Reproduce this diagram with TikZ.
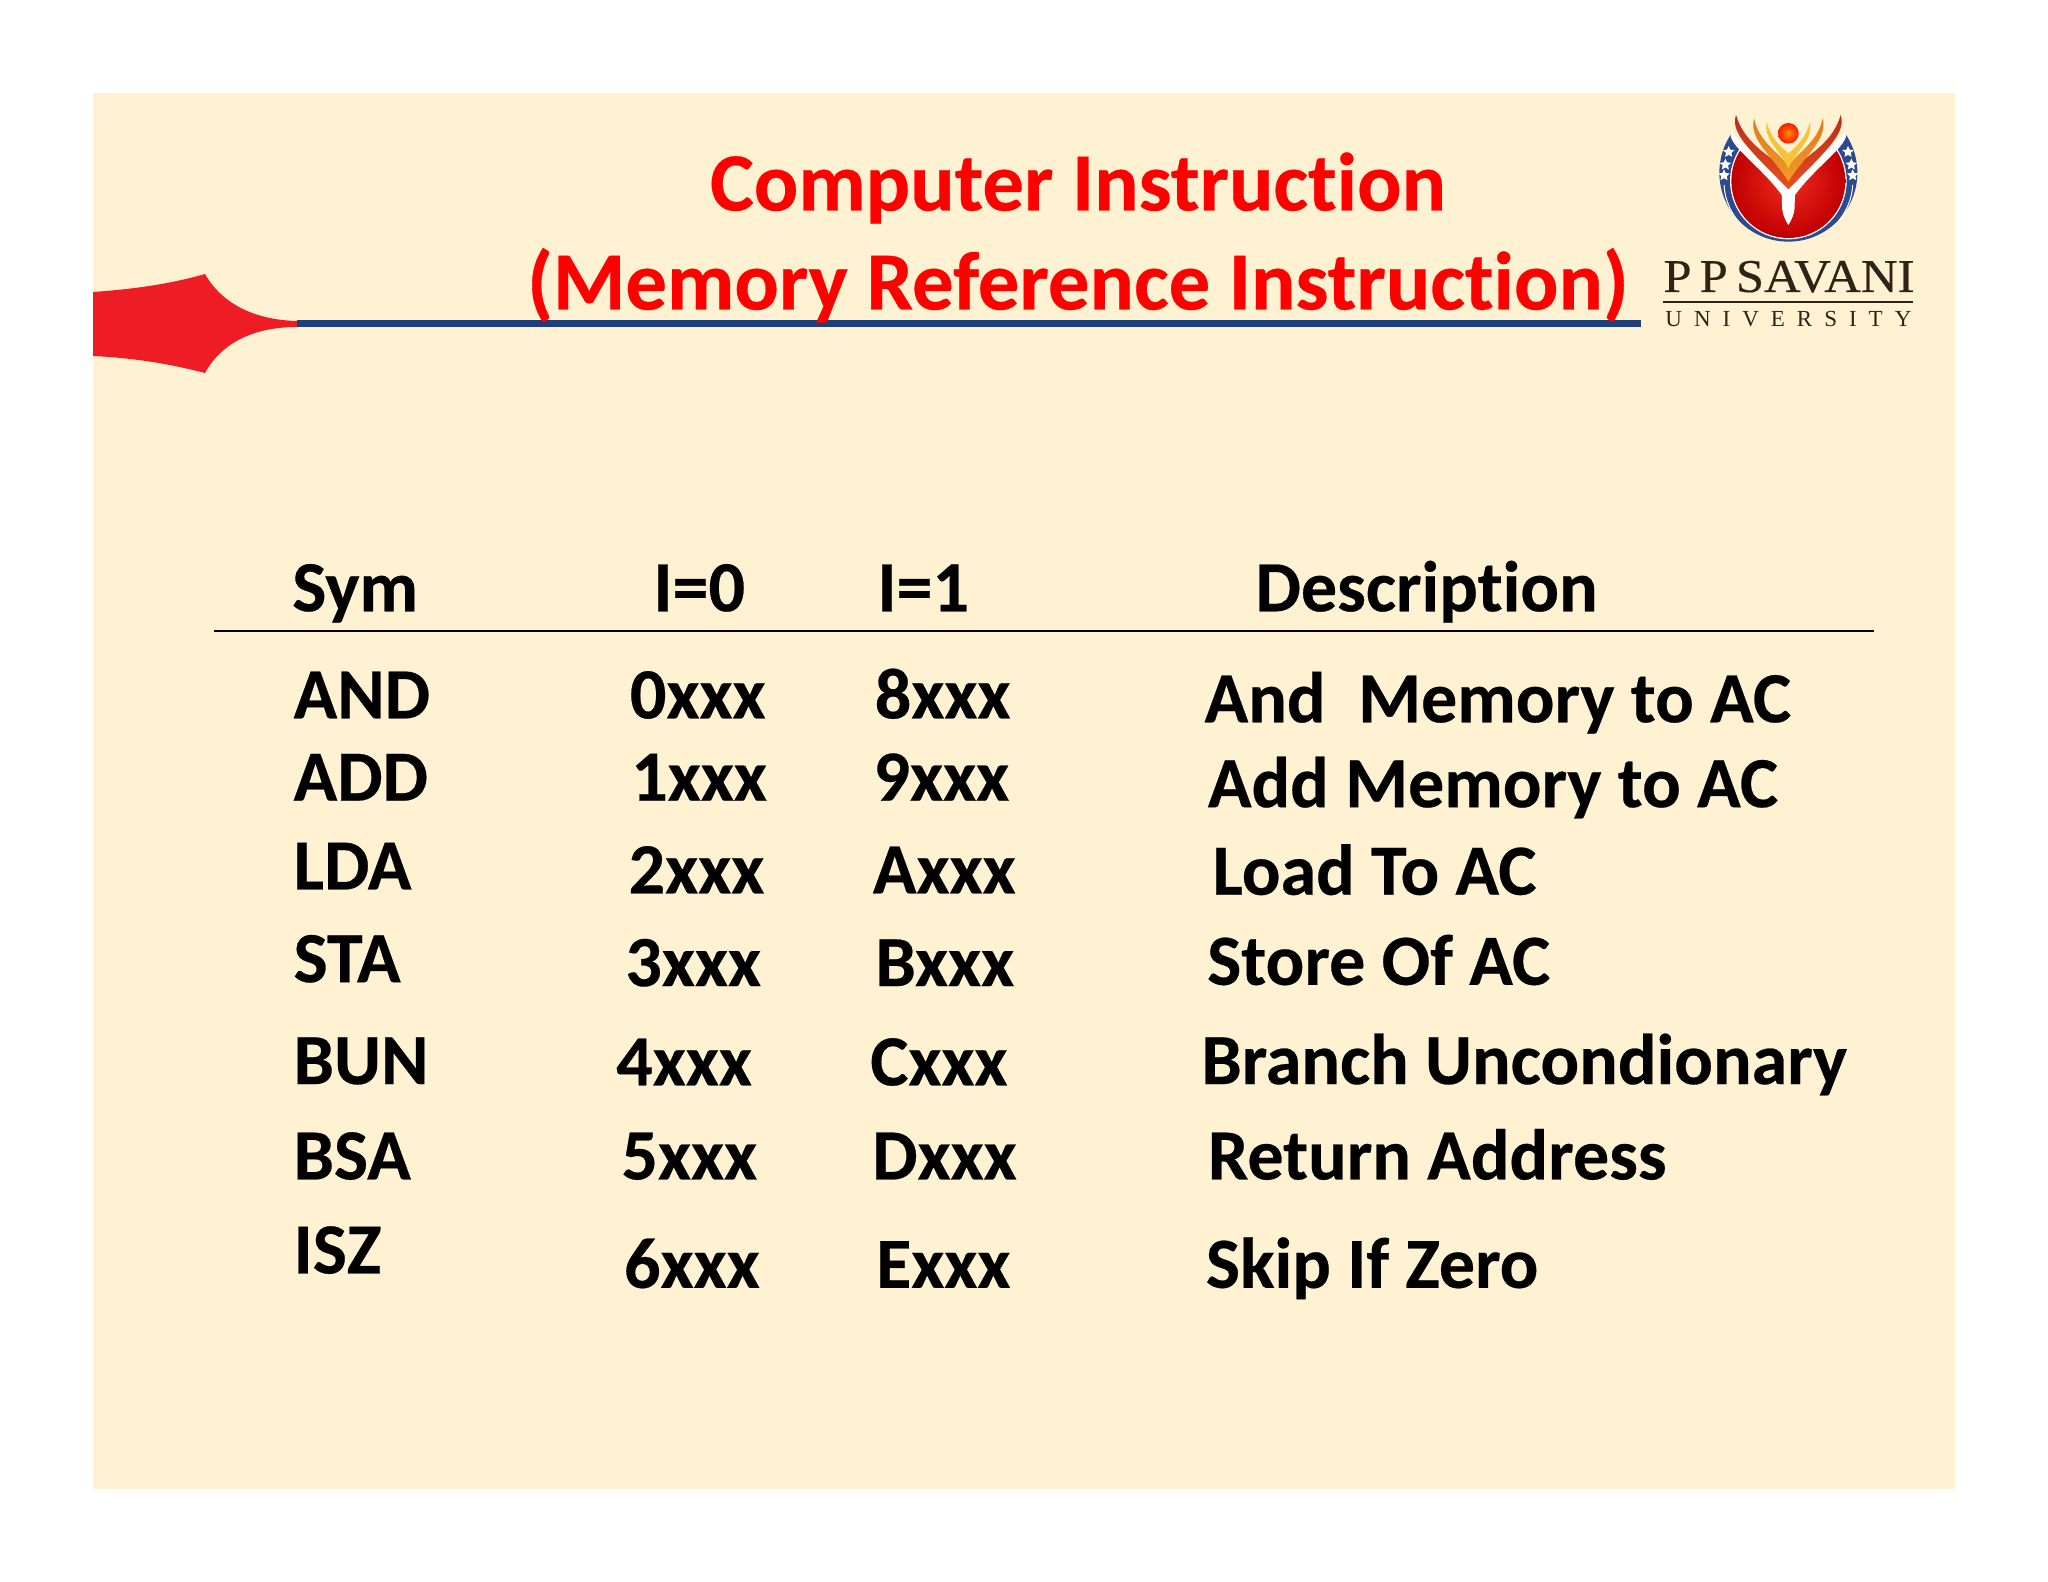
\documentclass[tikz,border=0pt]{standalone}
\usepackage{fontspec}
\setmainfont{Carlito}[Ligatures=NoCommon,BoldFeatures={FakeBold=0.35}]
\newfontfamily\logofont{Liberation Serif}[FakeStretch=1.08,FakeBold=0.35]
\newfontfamily\logosubfont{Liberation Serif}
\usetikzlibrary{shapes.geometric}
\definecolor{panelbg}{HTML}{FFF2D2}
\definecolor{barblue}{HTML}{1F3F7A}
\definecolor{penred}{HTML}{EE1C25}
\definecolor{titlered}{HTML}{FF0000}
\definecolor{logoblue}{HTML}{2C4A8C}
\definecolor{logoink}{HTML}{2E2317}
\definecolor{flamered}{HTML}{B92A1A}
\definecolor{flamelow}{HTML}{E8501E}
\definecolor{flameorange}{HTML}{DE7A22}
\definecolor{flameamber}{HTML}{F29A24}
\definecolor{flameyellow}{HTML}{F8C33A}
\tikzset{
  titletext/.style={anchor=base,font=\bfseries\fontsize{41.4pt}{41.4pt}\selectfont,text=titlered,inner sep=0pt},
  celltext/.style={anchor=base west,font=\bfseries\fontsize{36pt}{36pt}\selectfont,text=black,inner sep=0pt},
  logostar/.style={star,star points=5,star point ratio=2.1,fill=white,draw=none,minimum size=6pt,inner sep=0pt},
  logotext/.style={anchor=base west,text=logoink,inner sep=0pt}
}
\begin{document}
\begin{tikzpicture}[x=0.5pt,y=-0.5pt]
\useasboundingbox (0,0) rectangle (2048,1582);
\fill[white] (0,0) rectangle (2048,1582);
\fill[panelbg] (93,93) rectangle (1955,1489);
% pen nib and bar
\coordinate (barstart) at (297,324);
\coordinate (barend) at (1641,324);
\draw[barblue,line width=3.5pt] (barstart) -- (barend);
\fill[penred] (93,292) .. controls (135,289) and (170,284) .. (205,274)
  .. controls (222,304) and (255,320) .. (297,321)
  -- (297,327)
  .. controls (255,327) and (222,342) .. (205,373)
  .. controls (170,364) and (135,358) .. (93,356) -- cycle;
% title
\node[titletext] (title1) at (1078,210.5) {Computer Instruction};
\node[titletext] (title2) at (1078,309.5) {(Memory Reference Instruction)};
% logo, in zoom coordinates
\begin{scope}[shift={(1600,90)},x=0.1666667pt,y=-0.1666667pt]
  \fill[logoblue] (565,248) circle[radius=207];
  \fill[white] (565,273) circle[radius=175];
  \shade[inner color=penred!85!orange,outer color=red!75!black] (565,273) circle[radius=171];
  \fill[panelbg] (340,30) -- (345,110) -- (392,130) -- (565,300) -- (738,130) -- (785,110) -- (790,30) -- cycle;
  \fill[white] (392,125) .. controls (380,165) and (480,225) .. (545,315)
     .. controls (548,350) and (540,365) .. (565,405)
     .. controls (590,365) and (582,350) .. (585,315)
     .. controls (650,225) and (750,165) .. (738,125)
     .. controls (700,170) and (610,230) .. (565,298)
     .. controls (520,230) and (430,170) .. (392,125) -- cycle;
  \shade[top color=flamered,bottom color=flamelow] (408,75) .. controls (390,130) and (450,180) .. (565,298)
     .. controls (680,180) and (740,130) .. (722,75)
     .. controls (700,150) and (640,190) .. (565,240)
     .. controls (490,190) and (430,150) .. (408,75) -- cycle;
  \shade[top color=flameorange,bottom color=flameamber] (462,85) .. controls (445,150) and (520,200) .. (565,275)
     .. controls (610,200) and (685,150) .. (668,85)
     .. controls (655,150) and (605,180) .. (565,225)
     .. controls (525,180) and (475,150) .. (462,85) -- cycle;
  \fill[flameyellow] (500,95) .. controls (490,150) and (540,180) .. (565,235)
     .. controls (590,180) and (640,150) .. (630,95)
     .. controls (620,140) and (590,170) .. (565,190)
     .. controls (540,170) and (510,140) .. (500,95) -- cycle;
  \shade[inner color=orange!90!yellow,outer color=red!80!orange] (565,130) circle[radius=31];
  \node[logostar] (s1) at (386,186) {};
  \node[logostar] (s2) at (376,224) {};
  \node[logostar] (s3) at (372,256) {};
  \node[logostar] (s4) at (744,186) {};
  \node[logostar] (s5) at (754,224) {};
  \node[logostar] (s6) at (758,256) {};
  \draw[white,line width=0.5pt] (372,285) .. controls (374,330) and (395,375) .. (425,405);
  \draw[white,line width=0.5pt] (758,285) .. controls (756,330) and (735,375) .. (705,405);
\end{scope}
\node[logotext,font=\logofont\fontsize{23.5pt}{23.5pt}\selectfont] (logoname) at (1663,292) {P\hspace{4pt}P\hspace{4pt}SAVANI};
\coordinate (logorulea) at (1663,302);
\coordinate (logoruleb) at (1913,302);
\draw[logoink,line width=0.6pt] (logorulea) -- (logoruleb);
\node[logotext,font=\logosubfont\fontsize{11.5pt}{11.5pt}\selectfont] (logosub) at (1665,327) {\makebox[123pt][s]{U\hfill N\hfill I\hfill V\hfill E\hfill R\hfill S\hfill I\hfill T\hfill Y}};
% table, in displayed coordinates
\begin{scope}[x=0.65305pt,y=-0.65305pt]
  \coordinate (rulea) at (164,483);
  \coordinate (ruleb) at (1435,483);
  \draw[black,line width=0.9pt] (rulea) -- (ruleb);
  \node[celltext] (hsym) at (223.5,468) {Sym};
  \node[celltext] (hzero) at (500,468) {I=0};
  \node[celltext] (hone) at (671.5,468) {I=1};
  \node[celltext] (hdesc) at (961,468) {Description};
  \node[celltext] (a1) at (224.5,550) {AND};
  \node[celltext] (a2) at (482,550) {0xxx};
  \node[celltext] (a3) at (669.5,550) {8xxx};
  \node[celltext] (a4) at (922,553) {And\ \ Memory to AC};
  \node[celltext] (b1) at (224.5,613) {ADD};
  \node[celltext] (b2) at (483,613) {1xxx};
  \node[celltext] (b3) at (668.5,613) {9xxx};
  \node[celltext] (b4) at (924.5,618) {Add Memory to AC};
  \node[celltext] (c1) at (224.5,681) {LDA};
  \node[celltext] (c2) at (481,684) {2xxx};
  \node[celltext] (c3) at (668,684) {Axxx};
  \node[celltext] (c4) at (928,685) {Load To AC};
  \node[celltext] (d1) at (224.5,752) {STA};
  \node[celltext] (d2) at (478.5,755) {3xxx};
  \node[celltext] (d3) at (670,755) {Bxxx};
  \node[celltext] (d4) at (924,754) {Store Of AC};
  \node[celltext] (e1) at (224.5,830) {BUN};
  \node[celltext] (e2) at (471.5,831) {4xxx};
  \node[celltext] (e3) at (666,831) {Cxxx};
  \node[celltext] (e4) at (919.5,830) {Branch Uncondionary};
  \node[celltext] (f1) at (224.5,903) {BSA};
  \node[celltext] (f2) at (475.5,903) {5xxx};
  \node[celltext] (f3) at (667.5,903) {Dxxx};
  \node[celltext] (f4) at (924.5,903) {Return Address};
  \node[celltext] (g1) at (224.5,975) {ISZ};
  \node[celltext] (g2) at (477.5,986) {6xxx};
  \node[celltext] (g3) at (670.5,986) {Exxx};
  \node[celltext] (g4) at (923,986) {Skip If Zero};
\end{scope}
\end{tikzpicture}
\end{document}
